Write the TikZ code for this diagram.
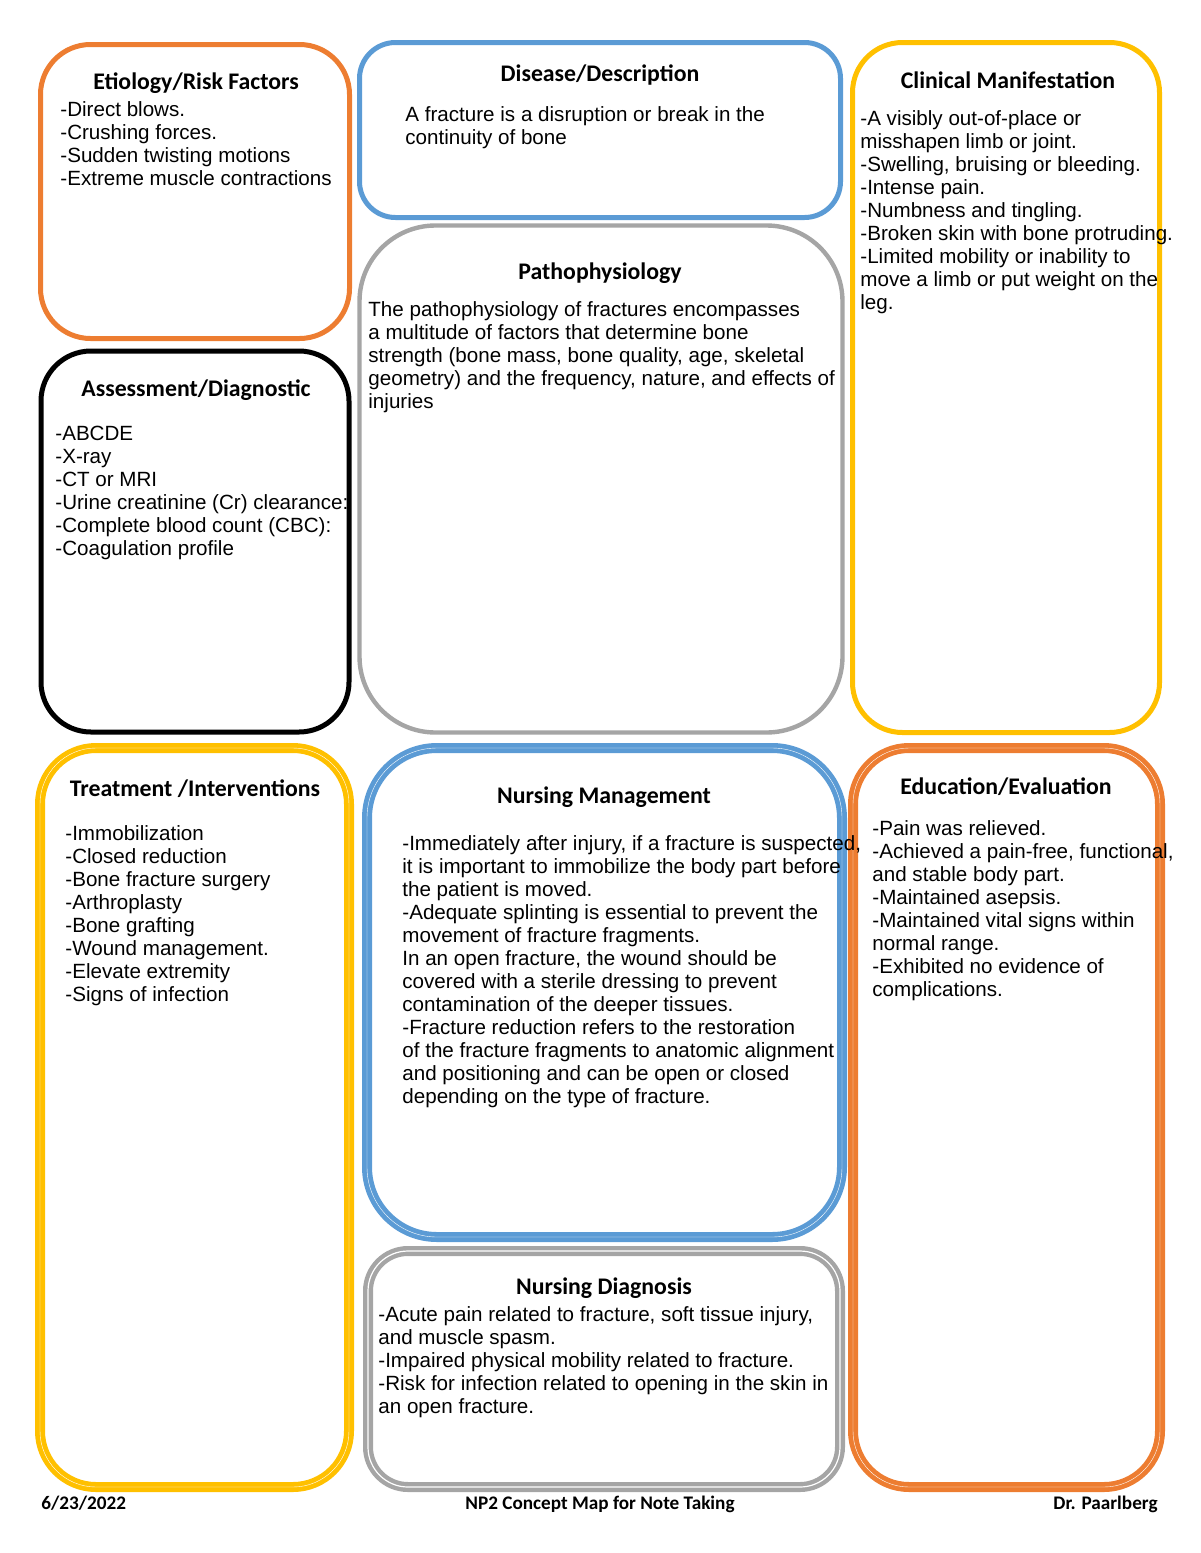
\documentclass[tikz,border=0pt]{standalone}
\usepackage{fontspec}
\setmainfont{Liberation Sans}
\newfontfamily\headfont{Carlito}
\usetikzlibrary{positioning}
\definecolor{mapOrange}{HTML}{ED7D31}
\definecolor{mapBlue}{HTML}{5B9BD5}
\definecolor{mapYellow}{HTML}{FFC000}
\definecolor{mapGray}{HTML}{A5A5A5}
\newcommand\boxlines[1]{\begin{tabular}[t]{@{}l@{}}#1\end{tabular}}
\tikzset{
  box/.style={line width=2.5pt,rounded corners=25pt},
  dblbox/.style={line width=2.4pt,double=white,double distance=0.2pt,rounded corners=28pt},
  head/.style={font=\headfont\bfseries\fontsize{11.9}{14}\selectfont,anchor=base,inner sep=0pt},
  body/.style={font=\fontsize{10.3}{11.5}\selectfont,anchor=base west,inner sep=0pt},
  foot/.style={font=\headfont\bfseries\fontsize{9.6}{11}\selectfont,anchor=base,inner sep=0pt}
}
\begin{document}
\begin{tikzpicture}[x=0.5pt,y=-0.5pt]
  \useasboundingbox (0,0) rectangle (1200,1553);

  % Top row
  \draw[box,mapOrange] (40.5,44.5) rectangle (349.5,338.5);
  \draw[box,mapBlue,rounded corners=18pt] (359.5,42.5) rectangle (840.5,217.5);
  \draw[box,mapYellow] (852.5,42.5) rectangle (1159.5,732.5);
  \draw[box,black] (41,351) rectangle (349,732);
  \draw[box,mapGray,line width=2.2pt,rounded corners=38pt] (359.5,225.5) rectangle (842.5,732.5);

  % Bottom row
  \draw[dblbox,mapYellow] (40,748) rectangle (349,1487);
  \draw[dblbox,mapBlue,rounded corners=35pt] (367,748) rectangle (842,1237);
  \draw[dblbox,mapOrange] (853,748) rectangle (1160,1487);
  \draw[dblbox,mapGray,line width=2.2pt,double distance=0.6pt,rounded corners=20pt] (368,1251) rectangle (840,1487);

  % Etiology
  \node[head] (etioHead) at (196,89) {Etiology/Risk Factors};
  \node[body] (etioText) at (60,116) {\boxlines{-Direct blows.\\-Crushing forces.\\-Sudden twisting motions\\-Extreme muscle contractions}};

  % Disease
  \node[head] (diseaseHead) at (600,81) {Disease/Description};
  \node[body] (diseaseText) at (405,121) {\boxlines{A fracture is a disruption or break in the\\continuity of bone}};

  % Clinical manifestation
  \node[head] (clinHead) at (1008,88) {Clinical Manifestation};
  \node[body] (clinText) at (860,125) {\boxlines{-A visibly out-of-place or\\misshapen limb or joint.\\-Swelling, bruising or bleeding.\\-Intense pain.\\-Numbness and tingling.\\-Broken skin with bone protruding.\\-Limited mobility or inability to\\move a limb or put weight on the\\leg.}};

  % Assessment
  \node[head] (assessHead) at (196,396) {Assessment/Diagnostic};
  \node[body] (assessText) at (55,440) {\boxlines{-ABCDE\\-X-ray\\-CT or MRI\\-Urine creatinine (Cr) clearance:\\-Complete blood count (CBC):\\-Coagulation profile}};

  % Pathophysiology
  \node[head] (pathoHead) at (600,279) {Pathophysiology};
  \node[body] (pathoText) at (368,316) {\boxlines{The pathophysiology of fractures encompasses\\a multitude of factors that determine bone\\strength (bone mass, bone quality, age, skeletal\\geometry) and the frequency, nature, and effects of\\injuries}};

  % Treatment
  \node[head] (treatHead) at (195,796) {Treatment /Interventions};
  \node[body] (treatText) at (65,840) {\boxlines{-Immobilization\\-Closed reduction\\-Bone fracture surgery\\-Arthroplasty\\-Bone grafting\\-Wound management.\\-Elevate extremity\\-Signs of infection}};

  % Nursing management
  \node[head] (mgmtHead) at (604,803) {Nursing Management};
  \node[body] (mgmtText) at (402,850) {\boxlines{-Immediately after injury, if a fracture is suspected,\\it is important to immobilize the body part before\\the patient is moved.\\-Adequate splinting is essential to prevent the\\movement of fracture fragments.\\In an open fracture, the wound should be\\covered with a sterile dressing to prevent\\contamination of the deeper tissues.\\-Fracture reduction refers to the restoration\\of the fracture fragments to anatomic alignment\\and positioning and can be open or closed\\depending on the type of fracture.}};

  % Education
  \node[head] (eduHead) at (1006,794) {Education/Evaluation};
  \node[body] (eduText) at (872,835) {\boxlines{-Pain was relieved.\\-Achieved a pain-free, functional,\\and stable body part.\\-Maintained asepsis.\\-Maintained vital signs within\\normal range.\\-Exhibited no evidence of\\complications.}};

  % Nursing diagnosis
  \node[head] (diagHead) at (604,1294) {Nursing Diagnosis};
  \node[body] (diagText) at (378,1321) {\boxlines{-Acute pain related to fracture, soft tissue injury,\\and muscle spasm.\\-Impaired physical mobility related to fracture.\\-Risk for infection related to opening in the skin in\\an open fracture.}};

  % Footer
  \node[foot,anchor=base west] (footDate) at (41,1509) {6/23/2022};
  \node[foot] (footTitle) at (600,1509) {NP2 Concept Map for Note Taking};
  \node[foot,anchor=base east] (footName) at (1158,1509) {Dr. Paarlberg};
\end{tikzpicture}
\end{document}
